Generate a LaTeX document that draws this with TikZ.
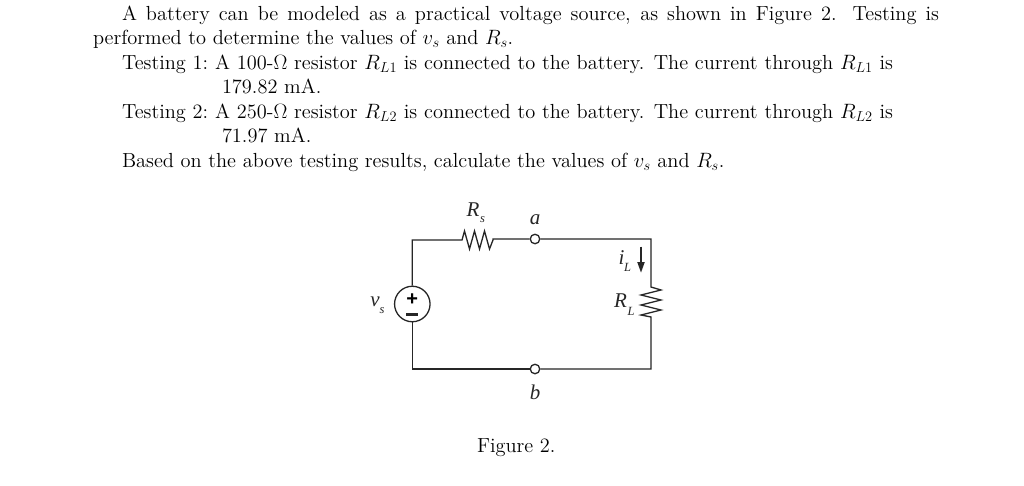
\documentclass[tikz,border=0pt]{standalone}
\usepackage{fontspec}
\setmainfont{lmroman12-regular.otf}[BoldFont=lmroman12-bold.otf,Ligatures=TeX]
\newfontfamily\lab[Ligatures=TeX]{Liberation Serif}
\newfontfamily\labsans{Liberation Sans}
\tikzset{
  x=1pt,y=-1pt,
  txt/.style={anchor=base west,inner sep=0,outer sep=0,font=\fontsize{20.4}{24}\selectfont},
  lbl/.style={inner sep=0,outer sep=0,font=\fontsize{21}{21}\lab\itshape,text=black!85},
  sub/.style={inner sep=0,outer sep=0,font=\fontsize{12.5}{12.5}\lab\itshape,text=black!85},
  wire/.style={draw=black!85,line width=1.3pt,line join=miter},
  term/.style={circle,draw=black!85,line width=1.3pt,fill=white,minimum size=9.5pt,inner sep=0},
  src/.style={circle,draw=black!85,line width=1.3pt,fill=white,minimum size=35.5pt,inner sep=0},
}
\newcommand{\fitline}[2]{\makebox[#1pt][s]{#2}}
\begin{document}
\begin{tikzpicture}
\useasboundingbox (0,0) rectangle (1024,485);
\fill[white] (0,0) rectangle (1024,485);
% text
\node[txt] (t1) at (122,20) {\fitline{817}{A battery can be modeled as a practical voltage source, as shown in Figure 2. Testing is}};
\node[txt] (t2) at (93,44.5) {performed to determine the values of $v_s$ and $R_s$.};
\node[txt] (t3) at (122,69) {\fitline{771}{Testing 1:\ A 100-$\Omega$ resistor $R_{L1}$ is connected to the battery. The current through $R_{L1}$ is}};
\node[txt] (t4) at (222,93.5) {179.82 mA.};
\node[txt] (t5) at (122,118) {\fitline{771}{Testing 2:\ A 250-$\Omega$ resistor $R_{L2}$ is connected to the battery. The current through $R_{L2}$ is}};
\node[txt] (t6) at (222,142.5) {71.97 mA.};
\node[txt] (t7) at (122,167) {Based on the above testing results, calculate the values of $v_s$ and $R_s$.};
\node[txt] (fig) at (477,452) {Figure 2.};
% circuit anchors
\node[src] (vs) at (412.3,304) {};
\node[term] (a) at (535,239) {};
\node[term] (b) at (535,369) {};
\coordinate (tl) at (412.3,240);
\coordinate (tr) at (651,239);
\coordinate (br) at (651,369);
\coordinate (bl) at (412.3,369);
\coordinate (rs1) at (462,240);
\coordinate (rs2) at (493,239);
\coordinate (rl1) at (651,287);
\coordinate (rl2) at (651,317);
\coordinate (ia) at (641,246.5);
\coordinate (ib) at (641,272.5);
% wires
\draw[wire] (vs.north) -- (tl) -- (rs1)
  -- ++(2.5,-9) -- ++(5,18) -- ++(5,-18) -- ++(5,18) -- ++(5,-18) -- ++(5,18) -- ++(3.5,-9) -- (rs2) -- (a.west);
\draw[wire] (a.east) -- (tr) -- (rl1)
  -- ++(10,3) -- ++(-20,5) -- ++(20,5) -- ++(-20,5) -- ++(20,5) -- ++(-20,5) -- ++(10,2) -- (rl2) -- (br) -- (b.east);
\draw[wire] (b.west) -- (bl) -- (vs.south);
% source signs
\node[inner sep=0,font=\fontsize{20}{20}\labsans\bfseries] (plus) at (412.3,299.3) {+};
\draw[black!85,line width=2.2pt] (406.3,314.5) -- (418.3,314.5);
% current arrow
\draw[black!85,line width=1.2pt] (ia) -- (641,262);
\fill[black!85] (ib) -- (637.2,262) -- (644.8,262) -- cycle;
% labels
\node[lbl] (Rs) at (473,209.5) {R};
\node[sub] (Rss) at (482.5,220) {s};
\node[lbl] (la) at (535,220) {a};
\node[lbl] (lb) at (535,392) {b};
\node[lbl] (vv) at (375,302) {v};
\node[sub] (vvs) at (382,311) {s};
\node[lbl] (il) at (621.5,258) {i};
\node[sub] (ils) at (627.5,267) {L};
\node[lbl] (RL) at (620.5,300.5) {R};
\node[sub] (RLs) at (631,311) {L};
\end{tikzpicture}
\end{document}
